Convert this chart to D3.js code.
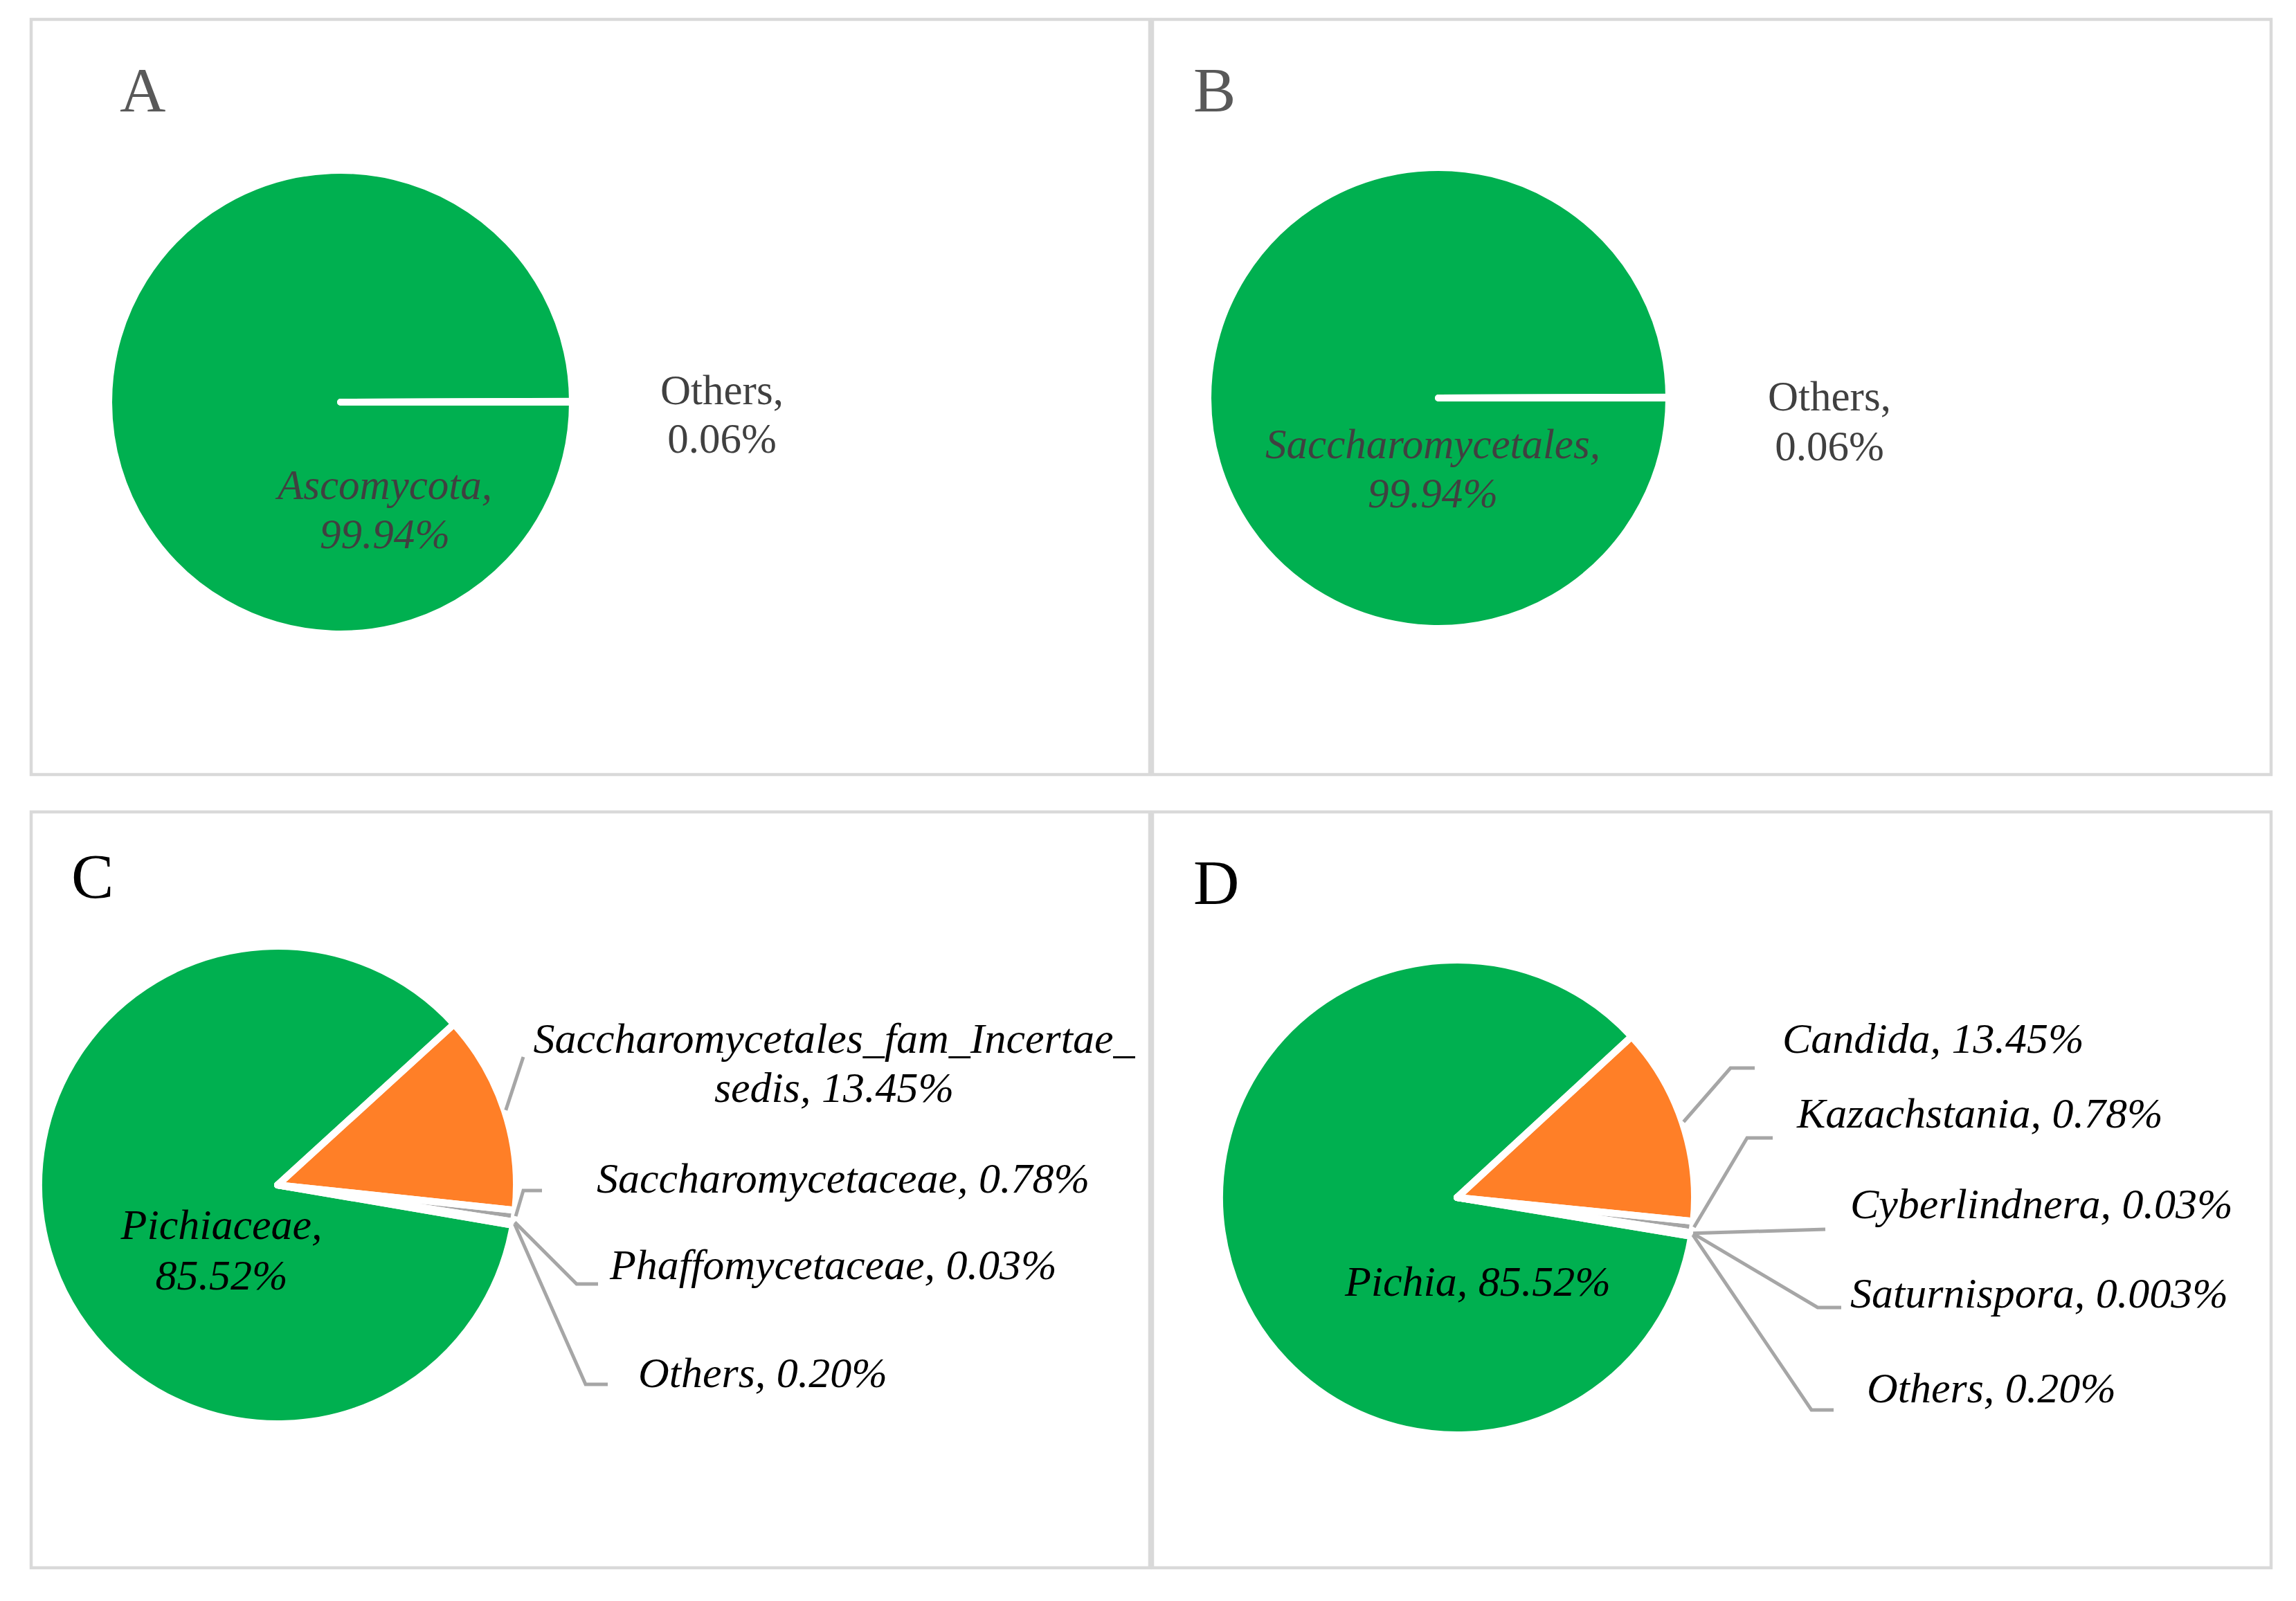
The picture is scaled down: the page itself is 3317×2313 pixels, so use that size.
<!DOCTYPE html>
<html>
<head>
<meta charset="utf-8">
<script src="https://cdn.jsdelivr.net/npm/d3@7"></script>
<style>
  html, body { margin: 0; padding: 0; background: #ffffff; }
  svg { display: block; }
</style>
</head>
<body>
<script>
// ---------------- DATA ----------------
const panelLetters = ["A", "B", "C", "D"];

const phylumNames = ["Ascomycota", "Others"];
const phylumValues = [99.94, 0.06];
const phylumPct = ["99.94%", "0.06%"];

const orderNames = ["Saccharomycetales", "Others"];
const orderValues = [99.94, 0.06];
const orderPct = ["99.94%", "0.06%"];

const familyNames = ["Pichiaceae", "Saccharomycetales_fam_Incertae_sedis", "Saccharomycetaceae", "Phaffomycetaceae", "Others"];
const familyValues = [85.52, 13.45, 0.78, 0.03, 0.20];
const familyPct = ["85.52%", "13.45%", "0.78%", "0.03%", "0.20%"];

const genusNames = ["Pichia", "Candida", "Kazachstania", "Cyberlindnera", "Saturnispora", "Others"];
const genusValues = [85.52, 13.45, 0.78, 0.03, 0.003, 0.20];
const genusPct = ["85.52%", "13.45%", "0.78%", "0.03%", "0.003%", "0.20%"];

// ---------------- STYLE / LAYOUT ----------------
const W = 3317, H = 2313;
const sliceColors = ["#00B050", "#FF7F27", "#A5A5A5", "#FFC000", "#5B9BD5", "#4472C4"];
const twoColors = ["#00B050", "#A5A5A5"];
const leaderColor = "#A6A6A6";
const borderColor = "#D9D9D9";
const FONT = "'Liberation Serif', 'Times New Roman', serif";
const deg = Math.PI / 180;

const panels = [
  {
    letter: panelLetters[0], names: phylumNames, values: phylumValues, pct: phylumPct,
    box: [45, 28, 1661, 1119], letterPos: [173, 161], letterColor: "#595959",
    textColor: "#404040", fontSize: 61, colors: twoColors,
    cx: 492, cy: 581, r: 330, start: 90,
    labels: [
      { lines: i => [phylumNames[i] + ",", phylumPct[i]], x: 556, ys: [721, 792], anchor: "middle", italic: true },
      { lines: i => [phylumNames[i] + ",", phylumPct[i]], x: 1043, ys: [584, 654], anchor: "middle", italic: false }
    ]
  },
  {
    letter: panelLetters[1], names: orderNames, values: orderValues, pct: orderPct,
    box: [1665, 28, 3281, 1119], letterPos: [1724, 161], letterColor: "#595959",
    textColor: "#404040", fontSize: 61, colors: twoColors,
    cx: 2078, cy: 575, r: 328, start: 90,
    labels: [
      { lines: i => [orderNames[i] + ",", orderPct[i]], x: 2070, ys: [662, 733], anchor: "middle", italic: true },
      { lines: i => [orderNames[i] + ",", orderPct[i]], x: 2643, ys: [593, 665], anchor: "middle", italic: false }
    ]
  },
  {
    letter: panelLetters[2], names: familyNames, values: familyValues, pct: familyPct,
    box: [45, 1173, 1661, 2265], letterPos: [103, 1297], letterColor: "#000000",
    textColor: "#000000", fontSize: 62, colors: sliceColors,
    cx: 401, cy: 1712, r: 340, start: 99.7,
    labels: [
      { lines: i => [familyNames[i] + ",", familyPct[i]], x: 320, ys: [1790, 1863], anchor: "middle", italic: true },
      { lines: i => { const s = familyNames[i] + ", " + familyPct[i]; return [s.slice(0, 31), s.slice(31)]; },
        x: 1205, ys: [1521, 1592], anchor: "middle", italic: true, leader: [[756, 1527]] },
      { lines: i => [familyNames[i] + ", " + familyPct[i]], x: 862, ys: [1723], anchor: "start", italic: true, leader: [[756, 1720], [783, 1720]] },
      { lines: i => [familyNames[i] + ", " + familyPct[i]], x: 881, ys: [1848], anchor: "start", italic: true, leader: [[833, 1855], [864, 1855]] },
      { lines: i => [familyNames[i] + ", " + familyPct[i]], x: 922, ys: [2004], anchor: "start", italic: true, leader: [[846, 2000], [878, 2000]] }
    ]
  },
  {
    letter: panelLetters[3], names: genusNames, values: genusValues, pct: genusPct,
    box: [1665, 1173, 3281, 2265], letterPos: [1724, 1306], letterColor: "#000000",
    textColor: "#000000", fontSize: 62, colors: sliceColors,
    cx: 2105, cy: 1730, r: 338, start: 99.4,
    labels: [
      { lines: i => [genusNames[i] + ", " + genusPct[i]], x: 2135, ys: [1872], anchor: "middle", italic: true },
      { lines: i => [genusNames[i] + ", " + genusPct[i]], x: 2575, ys: [1521], anchor: "start", italic: true, leader: [[2500, 1543], [2535, 1543]] },
      { lines: i => [genusNames[i] + ", " + genusPct[i]], x: 2596, ys: [1629], anchor: "start", italic: true, leader: [[2524, 1644], [2561, 1644]] },
      { lines: i => [genusNames[i] + ", " + genusPct[i]], x: 2673, ys: [1760], anchor: "start", italic: true, leader: [[2637, 1776]] },
      { lines: i => [genusNames[i] + ", " + genusPct[i]], x: 2673, ys: [1889], anchor: "start", italic: true, leader: [[2626, 1889], [2660, 1889]] },
      { lines: i => [genusNames[i] + ", " + genusPct[i]], x: 2697, ys: [2026], anchor: "start", italic: true, leader: [[2617, 2037], [2649, 2037]] }
    ]
  }
];

// ---------------- DRAW ----------------
const svg = d3.select("body").append("svg")
  .attr("width", W).attr("height", H)
  .attr("viewBox", `0 0 ${W} ${H}`);

svg.append("rect").attr("width", W).attr("height", H).attr("fill", "#ffffff");

const STROKE = 10;

panels.forEach(p => {
  const g = svg.append("g");

  // panel border
  g.append("rect")
    .attr("x", p.box[0]).attr("y", p.box[1])
    .attr("width", p.box[2] - p.box[0]).attr("height", p.box[3] - p.box[1])
    .attr("fill", "none").attr("stroke", borderColor).attr("stroke-width", 4.5);

  // panel letter
  g.append("text")
    .attr("x", p.letterPos[0]).attr("y", p.letterPos[1])
    .attr("font-family", FONT).attr("font-size", 92)
    .attr("fill", p.letterColor)
    .text(p.letter);

  const data = p.names.map((n, i) => ({ name: n, value: p.values[i], i }));
  const pie = d3.pie().sort(null).value(d => d.value)
    .startAngle(p.start * deg).endAngle(p.start * deg + 2 * Math.PI);
  const arcs = pie(data);
  const arc = d3.arc().innerRadius(0).outerRadius(p.r + STROKE / 2);
  const leaderArc = d3.arc().innerRadius(p.r + 7).outerRadius(p.r + 7);

  const pg = g.append("g").attr("transform", `translate(${p.cx},${p.cy})`);
  pg.selectAll("path.fill").data(arcs).join("path")
    .attr("class", "fill")
    .attr("d", arc)
    .attr("fill", d => p.colors[d.data.i]);
  pg.selectAll("path.edge").data(arcs).join("path")
    .attr("class", "edge")
    .attr("d", arc)
    .attr("fill", "none")
    .attr("stroke", "#ffffff")
    .attr("stroke-width", STROKE)
    .attr("stroke-linejoin", "round");

  // leader lines
  arcs.forEach((a, i) => {
    const lab = p.labels[i];
    if (!lab.leader) return;
    const c = leaderArc.centroid(a);
    const pts = [[p.cx + c[0], p.cy + c[1]]].concat(lab.leader);
    g.append("path")
      .attr("d", d3.line()(pts))
      .attr("fill", "none")
      .attr("stroke", leaderColor)
      .attr("stroke-width", 5);
  });

  // labels
  arcs.forEach((a, i) => {
    const lab = p.labels[i];
    const lines = lab.lines(i);
    const t = g.append("text")
      .attr("font-family", FONT)
      .attr("font-size", p.fontSize)
      .attr("font-style", lab.italic ? "italic" : "normal")
      .attr("fill", p.textColor)
      .attr("text-anchor", lab.anchor);
    lines.forEach((ln, k) => {
      t.append("tspan").attr("x", lab.x).attr("y", lab.ys[k]).text(ln);
    });
  });
});
</script>
</body>
</html>
